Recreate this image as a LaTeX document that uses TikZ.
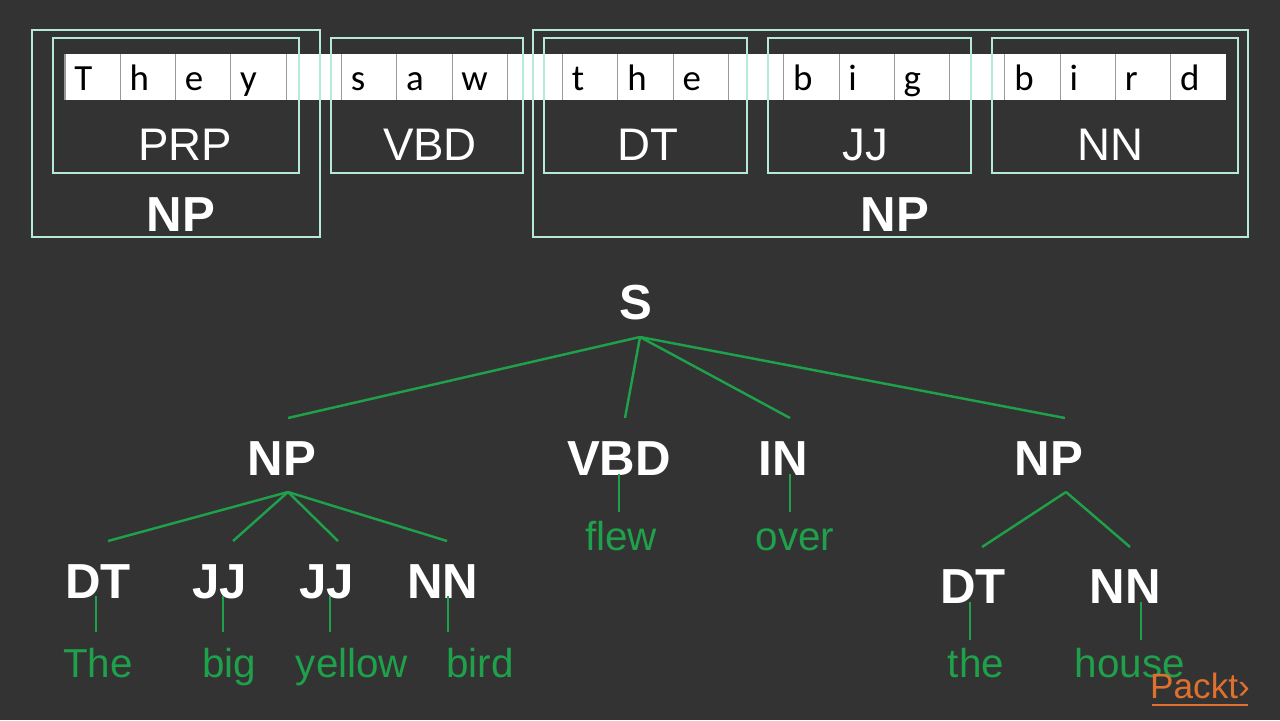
\documentclass[tikz,border=0pt]{standalone}
\usepackage{fontspec}
\setmainfont{Liberation Sans}
\newfontfamily\cellfont{Carlito}
\definecolor{bg}{HTML}{333333}
\definecolor{mint}{HTML}{B4EAD6}
\definecolor{leafgreen}{HTML}{1FA04A}
\definecolor{packt}{HTML}{E0702E}
\begin{document}
\begin{tikzpicture}[x=0.02cm,y=-0.02cm,
    tag/.style={text=white,font=\bfseries\fontsize{28}{30}\selectfont,inner sep=1pt,anchor=base},
    boxtag/.style={text=white,font=\fontsize{26}{28}\selectfont,inner sep=0pt,anchor=base},
    word/.style={text=leafgreen,font=\fontsize{23}{26}\selectfont,inner sep=1pt,anchor=base},
    branch/.style={leafgreen,line width=1.4pt},
    frame/.style={mint,line width=1pt}]
  % background
  \fill[bg] (0,0) rectangle (1280,720);
  % the character strip
  \fill[white] (65,54) rectangle (1226,100);
  \foreach \ch [count=\i from 0] in {T,h,e,y,{},s,a,w,{},t,h,e,{},b,i,g,{},b,i,r,d}{
    \pgfmathsetmacro{\cx}{65+\i*55.29}
    \draw[gray!80,line width=0.6pt] (\cx,54) -- (\cx,100);
    \node[font=\cellfont\fontsize{21}{22}\selectfont,text=black,anchor=base west,inner sep=0pt] (c\i) at (\cx+9,90) {\ch};
  }
  % tag boxes
  \draw[frame] (32,30) rectangle (320,237);
  \draw[frame] (533,30) rectangle (1248,237);
  \draw[frame] (53,38) rectangle (299,173);
  \draw[frame] (331,38) rectangle (523,173);
  \draw[frame] (544,38) rectangle (747,173);
  \draw[frame] (768,38) rectangle (971,173);
  \draw[frame] (992,38) rectangle (1238,173);
  \node[boxtag] (bprp) at (185,160) {PRP};
  \node[boxtag] (bvbd) at (430,160) {VBD};
  \node[boxtag] (bdt) at (648,160) {DT};
  \node[boxtag] (bjj) at (865,160) {JJ};
  \node[boxtag] (bnn) at (1110,160) {NN};
  \node[tag] (bnpa) at (181,231) {NP};
  \node[tag] (bnpb) at (895,231) {NP};
  % the parse tree
  \node[tag] (s) at (636,319) {S};
  \node[tag] (npa) at (282,475) {NP};
  \node[tag] (vbd) at (619,475) {VBD};
  \node[tag] (in) at (783,475) {IN};
  \node[tag] (npb) at (1049,475) {NP};
  \node[tag] (dta) at (98,598) {DT};
  \node[tag] (jja) at (220,598) {JJ};
  \node[tag] (jjb) at (327,598) {JJ};
  \node[tag] (nna) at (443,598) {NN};
  \node[tag] (dtb) at (973,603) {DT};
  \node[tag] (nnb) at (1125,603) {NN};
  \node[word] (wthe) at (98,677) {The};
  \node[word] (wbig) at (229,677) {big};
  \node[word] (wyellow) at (352,677) {yellow};
  \node[word] (wbird) at (480,677) {bird};
  \node[word] (wflew) at (621,550) {flew};
  \node[word] (wover) at (795,550) {over};
  \node[word] (wthe2) at (976,677) {the};
  \node[word] (whouse) at (1130,677) {house};
  % branches
  \coordinate (stop) at (640,337);
  \draw[branch] (stop) -- (288,418) coordinate (t1);
  \draw[branch] (stop) -- (625,418) coordinate (t2);
  \draw[branch] (stop) -- (790,418) coordinate (t3);
  \draw[branch] (stop) -- (1065,418) coordinate (t4);
  \coordinate (npatop) at (288,492);
  \foreach \x in {108,233,338,447}
    \draw[branch] (npatop) -- (\x,541);
  \coordinate (npbtop) at (1066,492);
  \draw[branch] (npbtop) -- (982,547);
  \draw[branch] (npbtop) -- (1130,547);
  \foreach \x/\a/\b in {96/596/632,223/596/632,330/596/632,448/596/632,619/474/512,790/474/512,970/602/640,1141/602/640}
    \draw[branch] (\x,\a) -- (\x,\b);
  % logo
  \node[text=packt,font=\fontsize{20}{22}\selectfont,inner sep=0pt,anchor=base] (logo) at (1200,698) {Packt›};
  \draw[packt,line width=1.6pt] (1152,705) -- (1248,705);
\end{tikzpicture}
\end{document}
